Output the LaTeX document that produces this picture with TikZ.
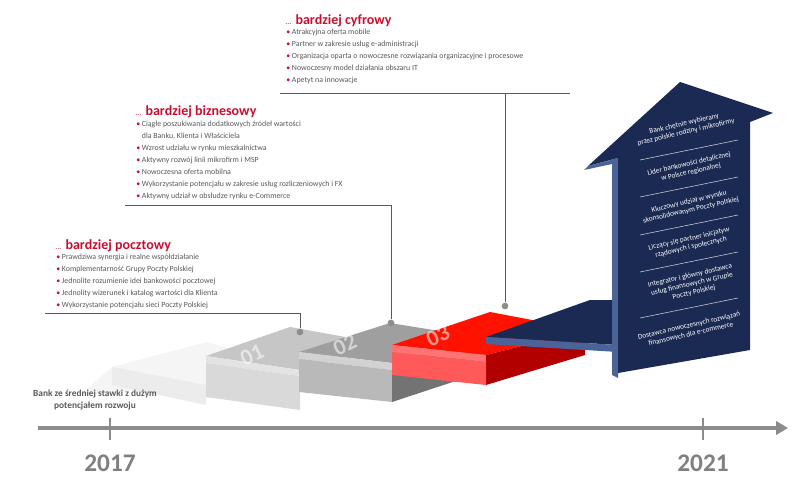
\documentclass[tikz,border=0pt]{standalone}
\usepackage{fontspec}
\setmainfont{Carlito}
\usetikzlibrary{arrows.meta}
\definecolor{pred}{HTML}{C8102E}
\definecolor{navy}{HTML}{1B2A52}
\definecolor{nblue}{HTML}{4A6497}
\definecolor{tgray}{HTML}{595959}
\definecolor{lgray}{HTML}{8C8C8C}
\tikzset{
 head/.style={anchor=south west,inner sep=0pt,font=\fontsize{10.5}{12}\selectfont\bfseries,text=pred},
 blist/.style={anchor=north west,inner sep=0pt,align=left,font=\fontsize{5.9}{9}\selectfont,text=tgray},
 lead/.style={draw=tgray,line width=0.6pt},
 dot/.style={circle,fill=lgray,inner sep=0pt,minimum size=5pt},
 shaft/.style={font=\fontsize{5.5}{6.4}\selectfont,text=white,align=center,rotate=13,inner sep=0pt},
 sep/.style={draw=white!80!navy,line width=0.4pt},
 num/.style={font=\fontsize{17}{17}\selectfont\bfseries,text=white,opacity=0.55,rotate=25},
 year/.style={font=\fontsize{19}{19}\selectfont\bfseries,text=gray}
}
\newcommand{\rb}{\textcolor{pred}{\textbullet}~}
\begin{document}
\begin{tikzpicture}[x=0.75pt,y=-0.75pt]
\useasboundingbox[fill=white] (0,0) rectangle (799,481);
% step 0
\fill[gray!8] (80,395) -- (112,367) -- (207,342) -- (260,358) -- (206,385) -- cycle;
\fill[gray!15] (112,367) -- (206,385) -- (206,405) -- (112,385) -- cycle;
% step 01
\fill[gray!45] (206,356) -- (290,327) -- (390,345) -- (300,370) -- cycle;
\fill[gray!22] (206,356) -- (300,370) -- (300,376) -- (206,363) -- cycle;
\fill[gray!30] (206,363) -- (300,376) -- (300,410) -- (206,397) -- cycle;
\node[num] (n1) at (252,355) {01};
% step 02
\fill[gray!75] (299,352) -- (390,323) -- (483,338) -- (392,363) -- cycle;
\fill[gray!35] (299,352) -- (392,363) -- (392,370) -- (299,359) -- cycle;
\fill[gray!55] (299,359) -- (392,370) -- (392,402) -- (299,392) -- cycle;
\fill[gray!90!black] (392,363) -- (483,338) -- (483,372) -- (392,402) -- cycle;
\node[num] (n2) at (345,345) {02};
% step 03
\fill[red!85!orange] (392,345) -- (490,312) -- (585,330) -- (486,355) -- cycle;
\fill[red!55] (392,345) -- (486,355) -- (486,362) -- (392,352) -- cycle;
\fill[red!70!black] (486,355) -- (585,330) -- (585,355) -- (486,385) -- cycle;
\fill[red!65] (392,352) -- (486,362) -- (486,385) -- (392,375) -- cycle;
\node[num] (n3) at (438,336) {03};
% navy base
\fill[navy] (486,337) -- (590,300) -- (618,300) -- (618,345) -- cycle;
\fill[nblue] (486,337) -- (618,345) -- (618,352) -- (486,344) -- cycle;
% arrow
\fill[nblue] (612,160) -- (618,158) -- (618,378) -- (612,375) -- cycle;
\fill[navy] (588,166) -- (680,82) -- (773,113) -- (750,122) -- (750,350) -- (618,373) -- (618,158) -- cycle;
\fill[nblue] (584,170) -- (588,166) -- (618,158) -- (612,164) -- cycle;
\node[shaft] (s1) at (685,128) {Bank chętnie wybierany\\przez polskie rodziny i mikrofirmy};
\draw[sep] (640,160) -- (738,140);
\node[shaft] (s2) at (690,168) {Lider bankowości detalicznej\\w Polsce regionalnej};
\draw[sep] (640,197) -- (738,177);
\node[shaft] (s3) at (690,206) {Kluczowy udział w wyniku\\skonsolidowanym Poczty Polskiej};
\draw[sep] (640,235) -- (738,215);
\node[shaft] (s4) at (690,243) {Liczący się partner inicjatyw\\rządowych i społecznych};
\draw[sep] (640,272) -- (738,252);
\node[shaft] (s5) at (692,284) {Integrator i główny dostawca\\usług finansowych w Grupie\\Poczty Polskiej};
\draw[sep] (640,318) -- (738,298);
\node[shaft] (s6) at (690,330) {Dostawca nowoczesnych rozwiązań\\finansowych dla e-commerce};
% left label
\node[font=\fontsize{7}{8.5}\selectfont\bfseries,text=tgray,align=center] (lbl) at (95,400) {Bank ze średniej stawki z dużym\\potencjałem rozwoju};
% timeline
\coordinate (t0) at (38,428); \coordinate (t1) at (788,428);
\draw[lgray,line width=2.5pt,-{Triangle[length=9pt,width=10pt]}] (t0) -- (t1);
\coordinate (k1) at (110,418); \coordinate (k1b) at (110,440);
\coordinate (k2) at (703,418); \coordinate (k2b) at (703,440);
\draw[lgray,line width=1.5pt] (k1) -- (k1b);
\draw[lgray,line width=1.5pt] (k2) -- (k2b);
\node[year] (y1) at (110,463) {2017};
\node[year] (y2) at (703,463) {2021};
% block 1
\node[head] (h1) at (55,252) {\textcolor{pred}{\fontsize{6}{6}\selectfont\mdseries...} bardziej pocztowy};
\node[blist] (b1) at (56,254) {\rb Prawdziwa synergia i realne współdziałanie\\\rb Komplementarność Grupy Poczty Polskiej\\\rb Jednolite rozumienie idei bankowości pocztowej\\\rb Jednolity wizerunek i katalog wartości dla Klienta\\\rb Wykorzystanie potencjału sieci Poczty Polskiej};
\node[dot] (d1) at (300,332) {};
\coordinate (c1a) at (45,313); \coordinate (c1b) at (300,313);
\draw[lead] (c1a) -- (c1b) -- (d1);
% block 2
\node[head] (h2) at (135,118) {\textcolor{pred}{\fontsize{6}{6}\selectfont\mdseries...} bardziej biznesowy};
\node[blist] (b2) at (136,121) {\rb Ciągłe poszukiwania dodatkowych źródeł wartości\\\phantom{\rb}dla Banku, Klienta i Właściciela\\\rb Wzrost udziału w rynku mieszkalnictwa\\\rb Aktywny rozwój linii mikrofirm i MSP\\\rb Nowoczesna oferta mobilna\\\rb Wykorzystanie potencjału w zakresie usług rozliczeniowych i FX\\\rb Aktywny udział w obsłudze rynku e-Commerce};
\node[dot] (d2) at (391,323) {};
\coordinate (c2a) at (125,205); \coordinate (c2b) at (391,205);
\draw[lead] (c2a) -- (c2b) -- (d2);
% block 3
\node[head] (h3) at (285,27) {\textcolor{pred}{\fontsize{6}{6}\selectfont\mdseries...} bardziej cyfrowy};
\node[blist] (b3) at (286,29) {\rb Atrakcyjna oferta mobile\\\rb Partner w zakresie usług e-administracji\\\rb Organizacja oparta o nowoczesne rozwiązania organizacyjne i procesowe\\\rb Nowoczesny model działania obszaru IT\\\rb Apetyt na innowacje};
\node[dot] (d3) at (505,306) {};
\coordinate (c3a) at (280,93); \coordinate (c3b) at (570,93); \coordinate (c3c) at (505,93);
\draw[lead] (c3a) -- (c3b);
\draw[lead] (c3c) -- (d3);
\end{tikzpicture}
\end{document}
